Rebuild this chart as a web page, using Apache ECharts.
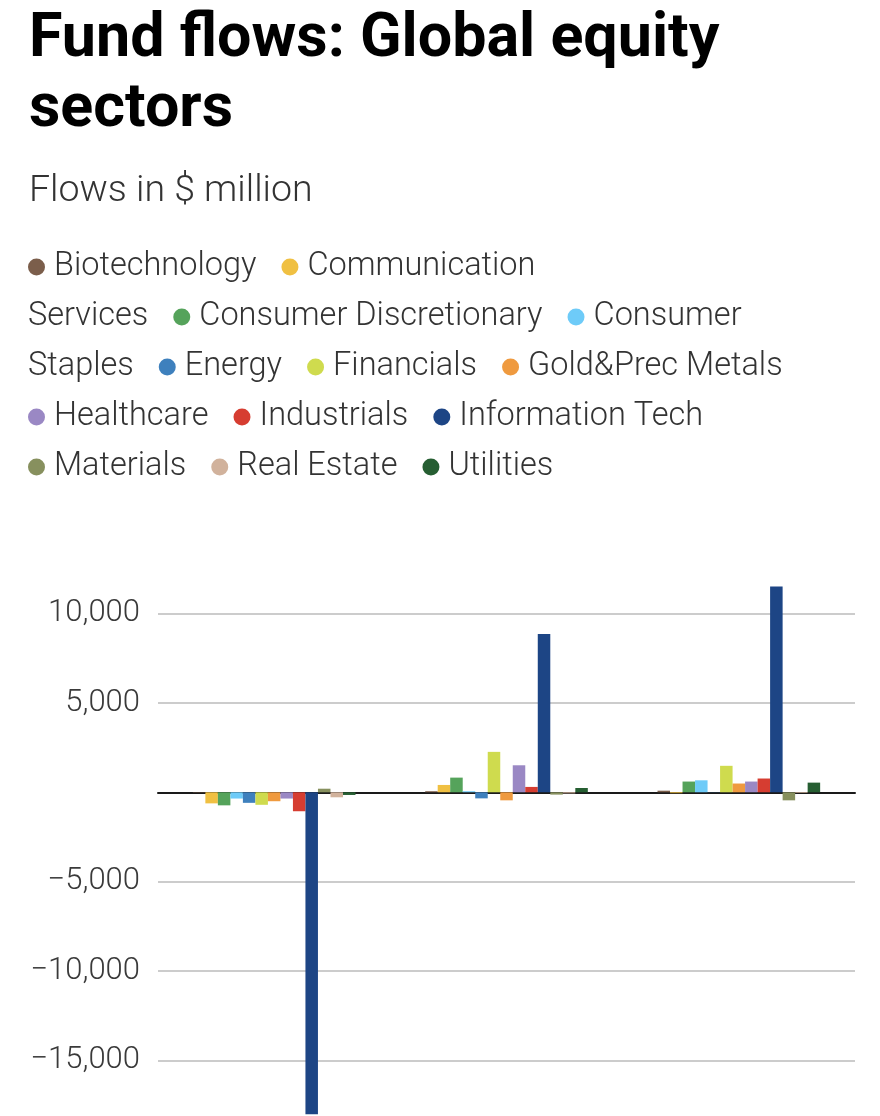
<!DOCTYPE html>
<html lang="en">
    <head>
        <meta charset="UTF-8" />
        <title>Fund flows: Global equity sectors</title>
        <script src="https://cdnjs.cloudflare.com/ajax/libs/echarts/6.0.0/echarts.min.js"></script>
        <style>
            body { margin: 0; background: #fff; }
            #chart { width: 880px; height: 1116px; }
        </style>
    </head>

    <body>
        <div id="chart"></div>
        <script>
            //periods (x axis labels are cut off in the source picture)
            const periods = ["Week", "Month", "Year"];

            //sector names and colours
            const sectors = ["Biotechnology", "Communication Services", "Consumer Discretionary", "Consumer Staples", "Energy", "Financials", "Gold&Prec Metals", "Healthcare", "Industrials", "Information Tech", "Materials", "Real Estate", "Utilities"];
            const colors = ["#7b5e4b", "#f0c042", "#55a35b", "#6ecbf8", "#3e80bd", "#cfdb4e", "#ef9a3f", "#9a88c4", "#d63d31", "#1d4585", "#87905e", "#d1b29c", "#265e32"];

            //flows in $ million, one value per period
            const biotechnology = [-20, 60, 90];
            const communication = [-620, 410, -50];
            const discretionary = [-730, 820, 600];
            const staples = [-350, 60, 670];
            const energy = [-590, -340, 10];
            const financials = [-700, 2260, 1480];
            const gold = [-500, -450, 490];
            const healthcare = [-350, 1510, 600];
            const industrials = [-1060, 300, 770];
            const infoTech = [-18000, 8850, 11500];
            const materials = [200, -130, -450];
            const realEstate = [-280, -60, -40];
            const utilities = [-150, 240, 540];
            const flows = [biotechnology, communication, discretionary, staples, energy, financials, gold, healthcare, industrials, infoTech, materials, realEstate, utilities];

            //y axis ticks
            const yTicks = [-20000, -15000, -10000, -5000, 0, 5000, 10000, 15000];

            //legend written as wrapped text: number of tokens (dots + words) per row
            const legendRowSizes = [4, 6, 8, 7, 7];

            function fmt(v) {
                const s = Math.abs(v).toString().replace(/\B(?=(\d{3})+(?!\d))/g, ",");
                return v < 0 ? "\u2212" + s : s;
            }

            function buildLegendText() {
                const tokens = [];
                sectors.forEach((name, i) => {
                    tokens.push({ dot: i });
                    name.split(" ").forEach(w => tokens.push({ word: w }));
                });
                const lines = [];
                let pos = 0;
                for (let size of legendRowSizes) {
                    const row = tokens.slice(pos, pos + size);
                    pos += size;
                    let line = "";
                    row.forEach((tk, j) => {
                        const prev = row[j - 1];
                        if (tk.dot !== undefined) {
                            if (j > 0) line += "{sep|}";
                            line += `{d${tk.dot}|}{gap|}`;
                        } else {
                            line += `{t|${prev && prev.word ? " " : ""}${tk.word}}`;
                        }
                    });
                    lines.push(line);
                }
                return lines.join("\n");
            }

            function legendRich() {
                const rich = {
                    t: { fontFamily: "Roboto", fontSize: 32.5, fontWeight: 300, color: "#333", lineHeight: 50 },
                    gap: { width: 9, height: 10 },
                    sep: { width: 25, height: 10 },
                };
                colors.forEach((c, i) => {
                    rich["d" + i] = { width: 17, height: 17, borderRadius: 8.5, backgroundColor: c };
                });
                return rich;
            }

            const chart = echarts.init(document.getElementById("chart"), null, { renderer: "canvas" });

            chart.setOption({
                animation: false,
                color: colors,
                textStyle: { fontFamily: "Roboto" },
                title: [
                    {
                        text: "Fund flows: Global equity\nsectors",
                        left: 29,
                        top: 6,
                        padding: 0,
                        textStyle: { fontFamily: "Roboto", fontSize: 61, fontWeight: "bold", color: "#000", lineHeight: 70 },
                    },
                    {
                        text: "Flows in $ million",
                        left: 29,
                        top: 170,
                        padding: 0,
                        textStyle: { fontFamily: "Roboto", fontSize: 37.5, fontWeight: 300, color: "#333", lineHeight: 44 },
                    },
                    {
                        text: buildLegendText(),
                        left: 28,
                        top: 242,
                        padding: 0,
                        textStyle: { rich: legendRich(), lineHeight: 50 },
                    },
                ],
                grid: {
                    left: 158,
                    right: 25,
                    top: 524,
                    bottom: -34,
                    outerBoundsMode: "none",
                },
                xAxis: {
                    type: "category",
                    data: periods,
                    axisLine: { onZero: true, lineStyle: { color: "#1a1a1a", width: 2 } },
                    axisTick: { show: false },
                    axisLabel: { show: false },
                },
                yAxis: {
                    type: "value",
                    min: yTicks[0],
                    max: yTicks[yTicks.length - 1],
                    interval: 5000,
                    axisLine: { show: false },
                    axisTick: { show: false },
                    splitLine: { showMaxLine: false, lineStyle: { color: "#cccccc", width: 2 } },
                    axisLabel: {
                        fontFamily: "Roboto",
                        fontSize: 31,
                        fontWeight: 300,
                        color: "#3a3a3a",
                        margin: 18,
                        showMaxLabel: false,
                        formatter: v => (v === 0 || v === yTicks[yTicks.length - 1] ? "" : fmt(v)),
                    },
                },
                series: sectors.map((name, i) => ({
                    name: name,
                    type: "bar",
                    data: flows[i],
                    barGap: "0%",
                    barCategoryGap: "30%",
                    itemStyle: { color: colors[i] },
                })),
            });
        </script>
    </body>
</html>
